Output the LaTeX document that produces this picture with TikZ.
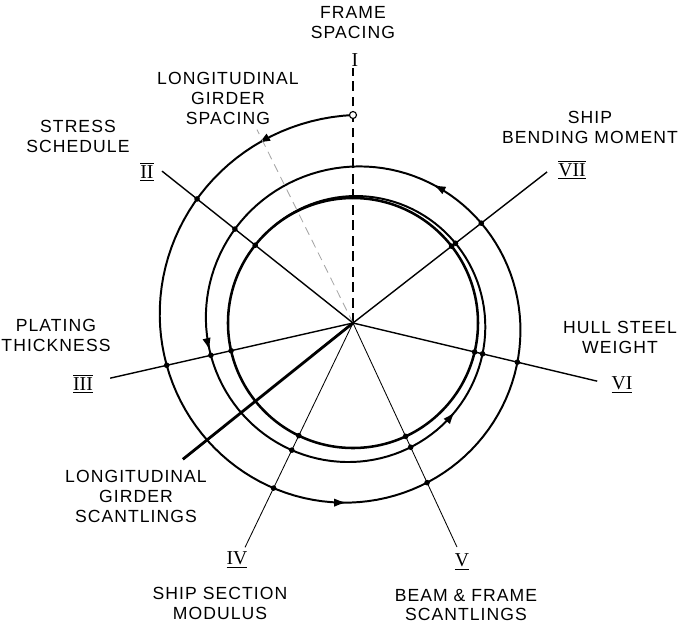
\documentclass[tikz,border=0pt]{standalone}
\usepackage{fontspec}
\setmainfont{Liberation Serif}
\newfontfamily\lblfont[LetterSpace=6]{Liberation Sans}
\usetikzlibrary{arrows.meta,decorations.markings,positioning}

\newcommand{\rnboth}[1]{$\overline{\underline{\mbox{#1}}}$}
\newcommand{\rnlow}[1]{$\underline{\mbox{#1}}$}

\begin{document}
\begin{tikzpicture}[x=0.025cm, y=0.025cm,
    declare function={spr(\d)=208-0.1737*\d+0.849*(\d/100)*(\d/100);},
    lbl/.style={font=\lblfont\fontsize{12.5}{14.2}\selectfont, align=center, inner sep=0pt},
    num/.style={font=\fontsize{14}{15}\selectfont, inner sep=1pt},
    spoke/.style={line width=1pt},
    thinspoke/.style={line width=0.6pt},
    spiral/.style={line width=1.4pt, postaction={decorate}, decoration={markings,
        mark=at position 0.0478 with {\arrow{Latex[length=9pt,width=6pt]}},
        mark=at position 0.2862 with {\arrow{Latex[length=9pt,width=6pt]}},
        mark=at position 0.5003 with {\arrow{Latex[length=9pt,width=6pt]}},
        mark=at position 0.6665 with {\arrow{Latex[length=9pt,width=6pt]}},
        mark=at position 0.8158 with {\arrow{Latex[length=9pt,width=6pt]}}}},
    dotpt/.style={circle, fill, inner sep=0pt, minimum size=4pt}
]
\useasboundingbox (-353,-318) rectangle (332,323);

% Centre and spoke ends
\coordinate (c) at (0,0);
\coordinate (e1) at (90:255);
\coordinate (e2) at (141.5:244);
\coordinate (e3) at (192.8:249);
\coordinate (e4) at (244.3:249);
\coordinate (e5) at (294.9:247);
\coordinate (e6) at (346.6:251);
\coordinate (e7) at (37.9:246);
\coordinate (gs) at (116.4:216);
\coordinate (gc) at (218.7:218);

% Spiral converging on the final circle
\draw[spiral] plot[domain=0:760, samples=260] ({90+\x}:{spr(\x)});
\draw[line width=1.8pt] (c) circle (125);

% Spokes
\draw[line width=1.4pt, dash pattern=on 7pt off 4pt] (c) -- (e1);
\draw[gray!70, line width=0.6pt, dash pattern=on 6pt off 4pt] (c) -- (gs);
\draw[spoke] (c) -- (e2);
\draw[spoke] (c) -- (e3);
\draw[line width=2pt] (c) -- (gc);
\draw[thinspoke] (c) -- (e4);
\draw[thinspoke] (c) -- (e5);
\draw[spoke] (c) -- (e6);
\draw[spoke] (c) -- (e7);

% Crossing points
\foreach \a in {141.5,192.8,244.3,294.9,346.6,397.9} {
    \node[dotpt] at ({\a}:{spr(\a-90)}) {};
    \node[dotpt] at ({\a}:{spr(\a+270)}) {};
    \node[dotpt] at (\a:125) {};
}
\node[circle, draw, fill=white, line width=0.8pt, inner sep=0pt, minimum size=5pt] (s0) at (90:208) {};

% Numerals
\node[num] (n1) at (2,263) {I};
\node[num] (n2) at (-206,151) {\rnboth{II}};
\node[num] (n3) at (-270,-61) {\rnboth{III}};
\node[num] (n4) at (-116,-237) {\rnlow{IV}};
\node[num] (n5) at (109,-239) {\rnlow{V}};
\node[num] (n6) at (269,-62) {\rnlow{VI}};
\node[num] (n7) at (219,153) {\rnboth{VII}};

% Labels
\node[lbl] (frame) at (0,300) {FRAME\\SPACING};
\node[lbl] (lgsp) at (-125,225) {LONGITUDINAL\\GIRDER\\SPACING};
\node[lbl] (stress) at (-275,187) {STRESS\\SCHEDULE};
\node[lbl] (plating) at (-297,-12) {PLATING\\THICKNESS};
\node[lbl] (lgsc) at (-217,-173) {LONGITUDINAL\\GIRDER\\SCANTLINGS};
\node[lbl] (modulus) at (-133,-280) {SHIP SECTION\\MODULUS};
\node[lbl] (beam) at (113,-282) {BEAM \& FRAME\\SCANTLINGS};
\node[lbl] (hull) at (267,-14) {HULL STEEL\\WEIGHT};
\node[lbl] (bending) at (237,196) {SHIP\\BENDING MOMENT};

\end{tikzpicture}
\end{document}
